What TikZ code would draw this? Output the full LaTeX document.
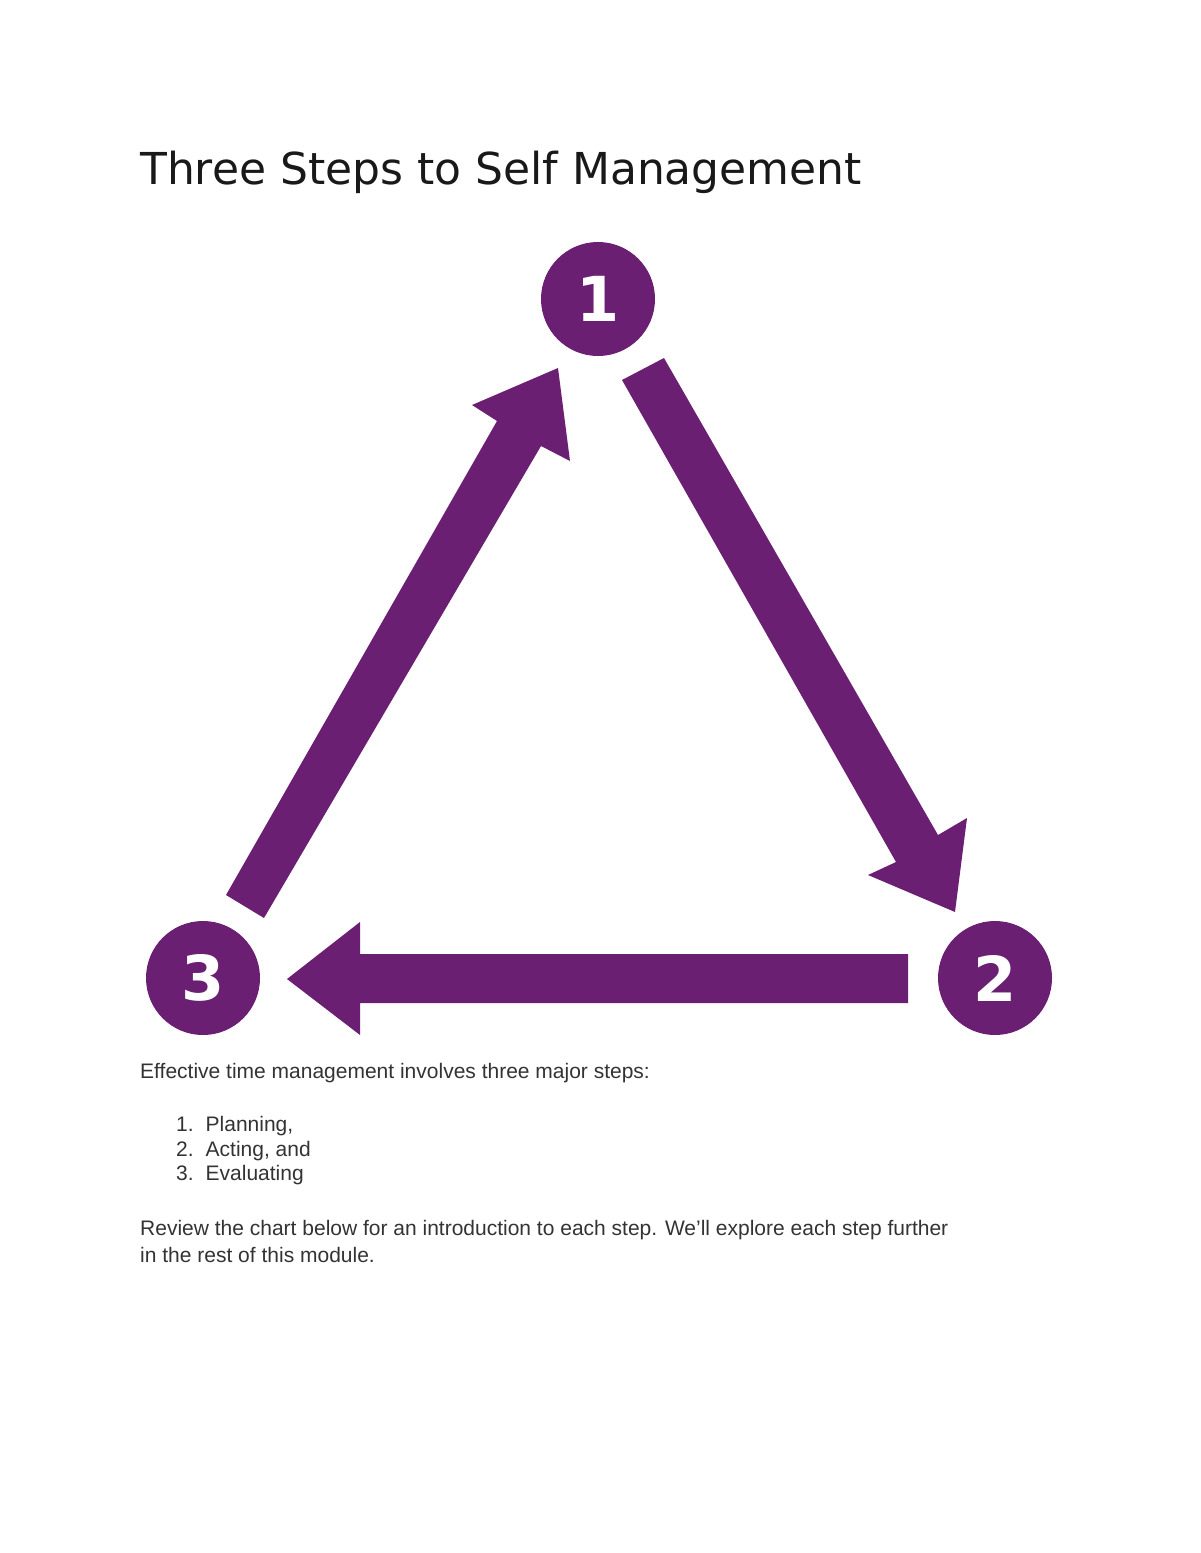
\documentclass[tikz,border=0pt]{standalone}
\usepackage{fontspec}
\setmainfont{Liberation Sans}
\newfontfamily\dejavu{DejaVu Sans}
\newfontfamily\dejavub{DejaVu Sans Bold}
\definecolor{purp}{HTML}{6B1F73}
\begin{document}
\begin{tikzpicture}[x=1pt,y=-1pt,
  circ/.style={circle,fill=purp,minimum size=114pt,inner sep=0pt,text=white,font=\dejavu\bfseries\fontsize{62}{62}\selectfont},
  arr/.style={fill=purp},
  body/.style={anchor=base west,inner sep=0pt,font=\fontsize{21}{25}\selectfont,text=black!80}]
\useasboundingbox (0,0) rectangle (1200,1553);
\node[anchor=base west,inner sep=0pt,font=\dejavu\fontsize{44}{44}\selectfont,text=black!90] (title) at (140,184) {Three Steps to Self Management};
\node[circ] (c1) at (598,299) {1};
\node[circ] (c2) at (995,978) {2};
\node[circ] (c3) at (203,978) {3};
% 3 -> 1
\fill[arr] (226,895) -- (497,421) -- (472,405) -- (558,368) -- (570,461) -- (541,446) -- (264,918) -- cycle;
% 1 -> 2
\fill[arr] (622,380) -- (664,358) -- (938,835) -- (967,818) -- (955,912) -- (868,875) -- (896,862) -- cycle;
% 2 -> 3
\fill[arr] (908,954) -- (360,954) -- (360,922) -- (287,979) -- (360,1035) -- (360,1003) -- (908,1003) -- cycle;
\node[body] (t1) at (140,1078) {Effective time management involves three major steps:};
\node[body] (l1) at (176,1131) {1.\hspace{12pt}Planning,};
\node[body] (l2) at (176,1156) {2.\hspace{12pt}Acting, and};
\node[body] (l3) at (176,1180) {3.\hspace{12pt}Evaluating};
\node[body] (t2) at (140,1235) {Review the chart below for an introduction to each step. We'll explore each step further};
\node[body] (t3) at (140,1262) {in the rest of this module.};
\end{tikzpicture}
\end{document}
